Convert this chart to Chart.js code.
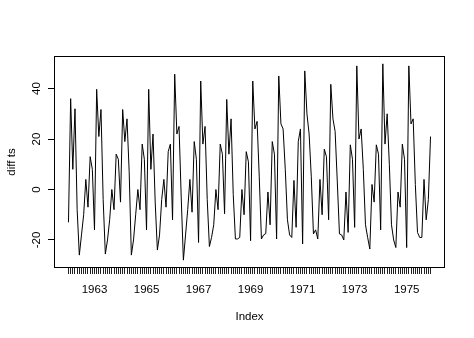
<!DOCTYPE html>
<html>
<head>
<meta charset="utf-8">
<script src="https://cdn.jsdelivr.net/npm/chart.js@4.4.0/dist/chart.umd.min.js"></script>
<style>
  html, body { margin: 0; padding: 0; background: #ffffff; }
  #c { display: block; }
</style>
</head>
<body>
<canvas id="c" width="474" height="338"></canvas>
<script>
// Monthly differenced series, Jan 1962 .. Dec 1975 (index 1..168)
const diffValues = [
  -13, 36, 8, 32, -8, -26, -18, -10, 4, -7, 13, 8,
  -16, 39.7, 21, 31.7, -4, -25.6, -20, -12, 0, -8, 14, 12,
  -5, 31.7, 19, 28, 7, -26, -20, -10, 0, -8, 18, 12,
  -16, 39.7, 8, 22, -5, -24, -18, -4, 4, -7, 15, 18,
  -12, 45.7, 22, 25, -3, -28, -18, -8, 4, -9, 19, 12,
  -21, 43, 18, 25, -4, -22.6, -19, -14, 0, -8, 18, 14,
  -9.6, 35.7, 14, 28, -2, -19.6, -19.6, -19, 0, -10, 15, 11,
  -20.3, 43, 24, 27, 5, -19.6, -18, -17.5, -1, -14, 19, 14,
  -19.6, 45, 26, 24, 8, -12, -18, -19, 3.6, -15, 19, 24,
  -21.6, 47, 30, 22, 5, -17.6, -16, -19.6, 4, -10, 16, 13,
  -12, 41.7, 28, 23, 3, -17.6, -18, -20, -1, -17, 17.7, 12,
  -15, 49, 20, 24, 8, -14, -19, -23.6, 2, -5, 17.7, 14,
  -16, 49.8, 18, 30, 10, -14, -20, -23, -1, -7, 18, 12,
  -23, 49, 26, 28, 2, -17, -19, -19, 4, -12, -4, 21
];
const yearLabels = ['1963', '1965', '1967', '1969', '1971', '1973', '1975'];
const yearTickIndex = [13, 37, 61, 85, 109, 133, 157];
const yTickValues = [-20, 0, 20, 40];
const xTitle = 'Index';
const yTitle = 'diff ts';

const indexTicks = diffValues.map((v, i) => i + 1);
const points = diffValues.map((v, i) => ({ x: i + 1, y: v }));

const n = diffValues.length;
const xPad = (n - 1) * 0.04;
const yMinData = Math.min(...diffValues), yMaxData = Math.max(...diffValues);
const yPad = (yMaxData - yMinData) * 0.04;

const FONT = '"Liberation Sans", Arial, sans-serif';

const rPlot = {
  id: 'rplot',
  afterDraw(chart) {
    const { ctx, chartArea: a, scales } = chart;
    const xs = scales.x, ys = scales.y;
    ctx.save();
    ctx.strokeStyle = '#000';
    ctx.lineWidth = 1;
    ctx.strokeRect(Math.round(a.left) + 0.5, Math.round(a.top) + 0.5,
                   Math.round(a.right - a.left) - 1, Math.round(a.bottom - a.top) - 1);
    ctx.fillStyle = '#000';
    ctx.font = '11.5px ' + FONT;
    ctx.textAlign = 'center';
    ctx.textBaseline = 'middle';
    yearTickIndex.forEach((idx, k) => {
      ctx.fillText(yearLabels[k], xs.getPixelForValue(idx), 289.5);
    });
    ctx.fillText(xTitle, (a.left + a.right) / 2, 317);
    yTickValues.forEach(v => {
      ctx.save();
      ctx.translate(37, ys.getPixelForValue(v));
      ctx.rotate(-Math.PI / 2);
      ctx.fillText(String(v), 0, 0);
      ctx.restore();
    });
    ctx.save();
    ctx.translate(12, (a.top + a.bottom) / 2);
    ctx.rotate(-Math.PI / 2);
    ctx.fillText(yTitle, 0, 0);
    ctx.restore();
    ctx.restore();
  }
};

new Chart(document.getElementById('c'), {
  type: 'line',
  data: {
    datasets: [{
      data: points,
      borderColor: '#000',
      borderWidth: 1,
      pointRadius: 0,
      tension: 0,
      fill: false
    }]
  },
  options: {
    responsive: false,
    animation: false,
    devicePixelRatio: 1,
    layout: { padding: { left: 0, top: 56, right: 29, bottom: 0 } },
    plugins: { legend: { display: false }, tooltip: { enabled: false } },
    scales: {
      x: {
        type: 'linear',
        min: 1 - xPad,
        max: n + xPad,
        afterBuildTicks: s => { s.ticks = indexTicks.map(v => ({ value: v })); },
        afterFit: s => { s.height = 70; },
        ticks: { display: false },
        grid: { drawOnChartArea: false, drawTicks: true, tickLength: 6, color: '#222', lineWidth: 1 },
        border: { display: false }
      },
      y: {
        type: 'linear',
        min: yMinData - yPad,
        max: yMaxData + yPad,
        afterBuildTicks: s => { s.ticks = yTickValues.map(v => ({ value: v })); },
        afterFit: s => { s.width = 54; },
        ticks: { display: false },
        grid: { drawOnChartArea: false, drawTicks: true, tickLength: 6, color: '#000', lineWidth: 1 },
        border: { display: false }
      }
    }
  },
  plugins: [rPlot]
});
</script>
</body>
</html>
